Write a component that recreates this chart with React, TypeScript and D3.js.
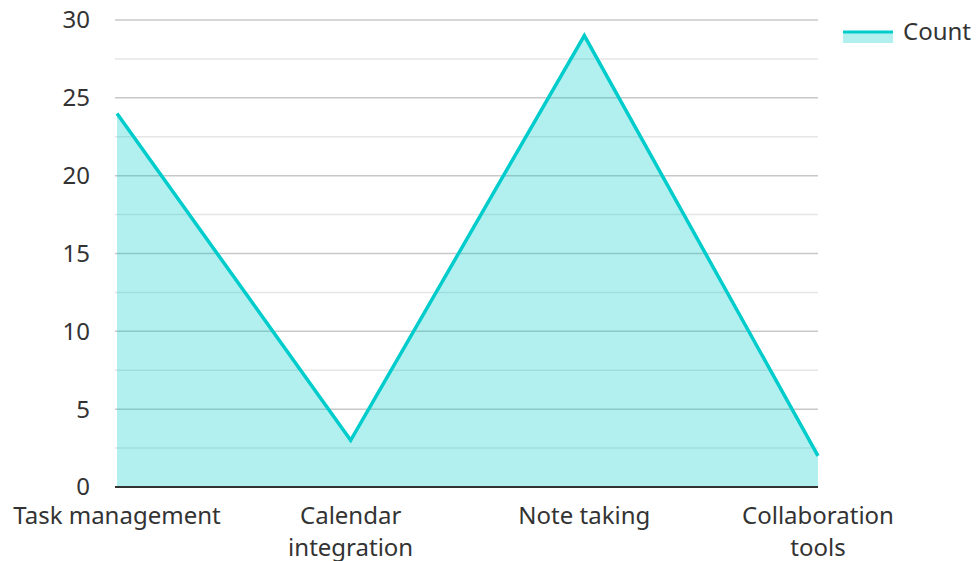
import React from "react";
import * as d3 from "d3";

const categories: string[][] = [
  ["Task management"],
  ["Calendar", "integration"],
  ["Note taking"],
  ["Collaboration", "tools"],
];
const counts: number[] = [24, 3, 29, 2];
const yTicks: number[] = [0, 5, 10, 15, 20, 25, 30];
const minorTicks: number[] = [2.5, 7.5, 12.5, 17.5, 22.5, 27.5];
const seriesName = "Count";

const W = 976;
const H = 561;
const left = 117;
const right = 818;
const top = 20;
const bottom = 487;
const font = "'Noto Sans', 'Open Sans', sans-serif";

export default function App() {
  const x = d3
    .scalePoint<number>()
    .domain(categories.map((_, i) => i))
    .range([left, right]);
  const y = d3.scaleLinear().domain([0, 30]).range([bottom, top]);
  const pts: [number, number][] = counts.map((v, i) => [x(i)!, y(v)]);
  const line = d3.line<[number, number]>()(pts)!;
  const area = d3
    .area<[number, number]>()
    .x((d) => d[0])
    .y0(y(0))
    .y1((d) => d[1])(pts)!;

  return (
    <svg
      width={W}
      height={H}
      style={{ position: "absolute", left: 0, top: 0 }}
      fontFamily={font}
    >
      {minorTicks.map((t) => (
        <line key={"m" + t} x1={115} x2={right} y1={y(t)} y2={y(t)} stroke="#e6e6e6" strokeWidth={1.5} />
      ))}
      {yTicks.map((t) => (
        <line key={"g" + t} x1={115} x2={right} y1={y(t)} y2={y(t)} stroke="#c8c8c8" strokeWidth={1.5} />
      ))}
      <path d={area} fill="rgba(0,204,204,0.3)" />
      <path d={line} fill="none" stroke="#00cccc" strokeWidth={3.5} strokeLinejoin="miter" />
      <line x1={115} x2={right} y1={bottom} y2={bottom} stroke="#333" strokeWidth={2} />
      {yTicks.map((t) => (
        <text key={"t" + t} x={90} y={y(t)} dy="0.35em" textAnchor="end" fontSize={24} fill="#333">
          {t}
        </text>
      ))}
      {categories.map((lines, i) => (
        <text key={"c" + i} x={x(i)!} y={524} textAnchor="middle" fontSize={24} fill="#333">
          {lines.map((l, j) => (
            <tspan key={j} x={x(i)!} dy={j === 0 ? 0 : 32}>
              {l}
            </tspan>
          ))}
        </text>
      ))}
      <rect x={843} y={31} width={50} height={12} fill="rgba(0,204,204,0.3)" />
      <line x1={843} x2={893} y1={32} y2={32} stroke="#00cccc" strokeWidth={3} />
      <text x={903} y={40} fontSize={24} fill="#333">
        {seriesName}
      </text>
    </svg>
  );
}
